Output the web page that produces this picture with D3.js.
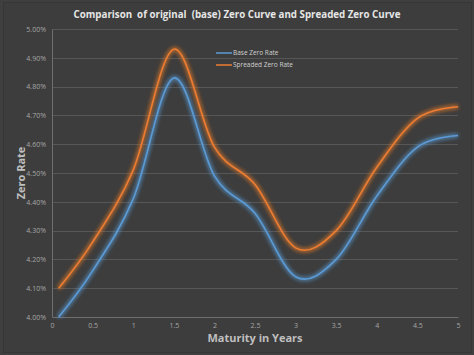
<!DOCTYPE html>
<html>
<head>
<meta charset="utf-8">
<script src="https://cdn.jsdelivr.net/npm/d3@7"></script>
<style>
html,body{margin:0;padding:0;background:#3f3f3f;}
svg{display:block;}
text{font-family:"Open Sans","Liberation Sans",sans-serif;}
</style>
</head>
<body>
<svg id="chart" width="474" height="355"></svg>
<script>
const maturities = [0.083, 0.5, 1, 1.5, 2, 2.5, 3, 3.5, 4, 4.5, 5];
const baseRates = [4.00, 4.16, 4.41, 4.83, 4.49, 4.36, 4.14, 4.20, 4.42, 4.59, 4.63];
const spreadRates = [4.10, 4.26, 4.51, 4.93, 4.59, 4.46, 4.24, 4.30, 4.52, 4.69, 4.73];
const xTicks = [0, 0.5, 1, 1.5, 2, 2.5, 3, 3.5, 4, 4.5, 5];
const yTicks = [4.0, 4.1, 4.2, 4.3, 4.4, 4.5, 4.6, 4.7, 4.8, 4.9, 5.0];
const seriesNames = ["Base Zero Rate", "Spreaded Zero Rate"];
const seriesColors = ["#5b9bd5", "#ed7d31"];
const titleText = "Comparison  of original  (base) Zero Curve and Spreaded Zero Curve";

const svg = d3.select("#chart");
const W = 474, H = 355;
const m = {left: 52, right: 16, top: 29, bottom: 38};

svg.append("rect").attr("x", 0).attr("y", 0).attr("width", W).attr("height", H).attr("fill", "#3f3f3f");
svg.append("rect").attr("x", 3.5).attr("y", 2.5).attr("width", W - 6).attr("height", H - 5)
  .attr("fill", "#3d3d3d").attr("stroke", "#363636").attr("stroke-width", 1);

const x = d3.scaleLinear().domain([0, 5]).range([m.left, W - m.right]);
const y = d3.scaleLinear().domain([4.0, 5.0]).range([H - m.bottom, m.top]);

const defs = svg.append("defs");
const f = defs.append("filter").attr("id", "glow").attr("x", "-20%").attr("y", "-20%").attr("width", "140%").attr("height", "140%");
f.append("feGaussianBlur").attr("in", "SourceGraphic").attr("stdDeviation", 2.2).attr("result", "b");
const fm = f.append("feMerge");
fm.append("feMergeNode").attr("in", "b");
fm.append("feMergeNode").attr("in", "b");

// gridlines
svg.append("g")
  .selectAll("line").data(yTicks.slice(1)).join("line")
  .attr("x1", m.left).attr("x2", W - m.right)
  .attr("y1", d => Math.round(y(d)) + 0.5).attr("y2", d => Math.round(y(d)) + 0.5)
  .attr("stroke", "#575757").attr("stroke-width", 1);

// y axis
const yAxis = svg.append("g").attr("transform", `translate(${m.left},0)`)
  .call(d3.axisLeft(y).tickValues(yTicks).tickFormat(d => d.toFixed(2) + "%").tickSize(0).tickPadding(6));
yAxis.select(".domain").attr("stroke", "#6e6e6e");
yAxis.selectAll("text").attr("fill", "#a6a6a6").style("font-size", "7px");

// x axis
const xAxis = svg.append("g").attr("transform", `translate(0,${y(4.0)})`)
  .call(d3.axisBottom(x).tickValues(xTicks).tickFormat(d => String(d)).tickSize(0).tickPadding(6));
xAxis.select(".domain").attr("stroke", "#6e6e6e");
xAxis.selectAll("text").attr("fill", "#a6a6a6").style("font-size", "7px");

// lines
const line = d3.line().x(d => x(d[0])).y(d => y(d[1])).curve(d3.curveCatmullRom.alpha(0));
[baseRates, spreadRates].forEach((vals, i) => {
  const pts = maturities.map((t, j) => [t, vals[j]]);
  const g = svg.append("g");
  g.append("path").datum(pts).attr("d", line).attr("fill", "none")
    .attr("stroke", seriesColors[i]).attr("stroke-width", 3).attr("stroke-opacity", 0.55)
    .attr("filter", "url(#glow)");
  g.append("path").datum(pts).attr("d", line).attr("fill", "none")
    .attr("stroke", seriesColors[i]).attr("stroke-width", 1.6);
});

// legend
const lg = svg.append("g").attr("transform", "translate(216,53)");
seriesNames.forEach((n, i) => {
  const row = lg.append("g").attr("transform", `translate(0,${i * 12})`);
  row.append("line").attr("x1", 0).attr("x2", 16).attr("y1", 0).attr("y2", 0)
    .attr("stroke", seriesColors[i]).attr("stroke-width", 1.5);
  row.append("text").attr("x", 17).attr("y", 0).attr("dy", "0.35em")
    .attr("fill", "#d0d0d0").style("font-size", "6.5px").text(n);
});

// title
const title = svg.append("text").attr("x", 237).attr("y", 18).attr("text-anchor", "middle")
  .attr("fill", "#e6e6e6").style("font-weight", "bold").style("font-size", "13px")
  .style("white-space", "pre").text(titleText);
const tw = title.node().getComputedTextLength();
title.style("font-size", (13 * 327 / tw).toFixed(2) + "px");

// axis titles
svg.append("text").attr("x", x(2.5)).attr("y", 342).attr("text-anchor", "middle")
  .attr("fill", "#bfbfbf").style("font-weight", "bold").style("font-size", "11px")
  .text("Maturity in Years");
svg.append("text").attr("transform", `translate(25,${(y(4.0) + y(5.0)) / 2}) rotate(-90)`)
  .attr("text-anchor", "middle").attr("fill", "#bfbfbf").style("font-weight", "bold").style("font-size", "11px")
  .text("Zero Rate");
</script>
</body>
</html>
